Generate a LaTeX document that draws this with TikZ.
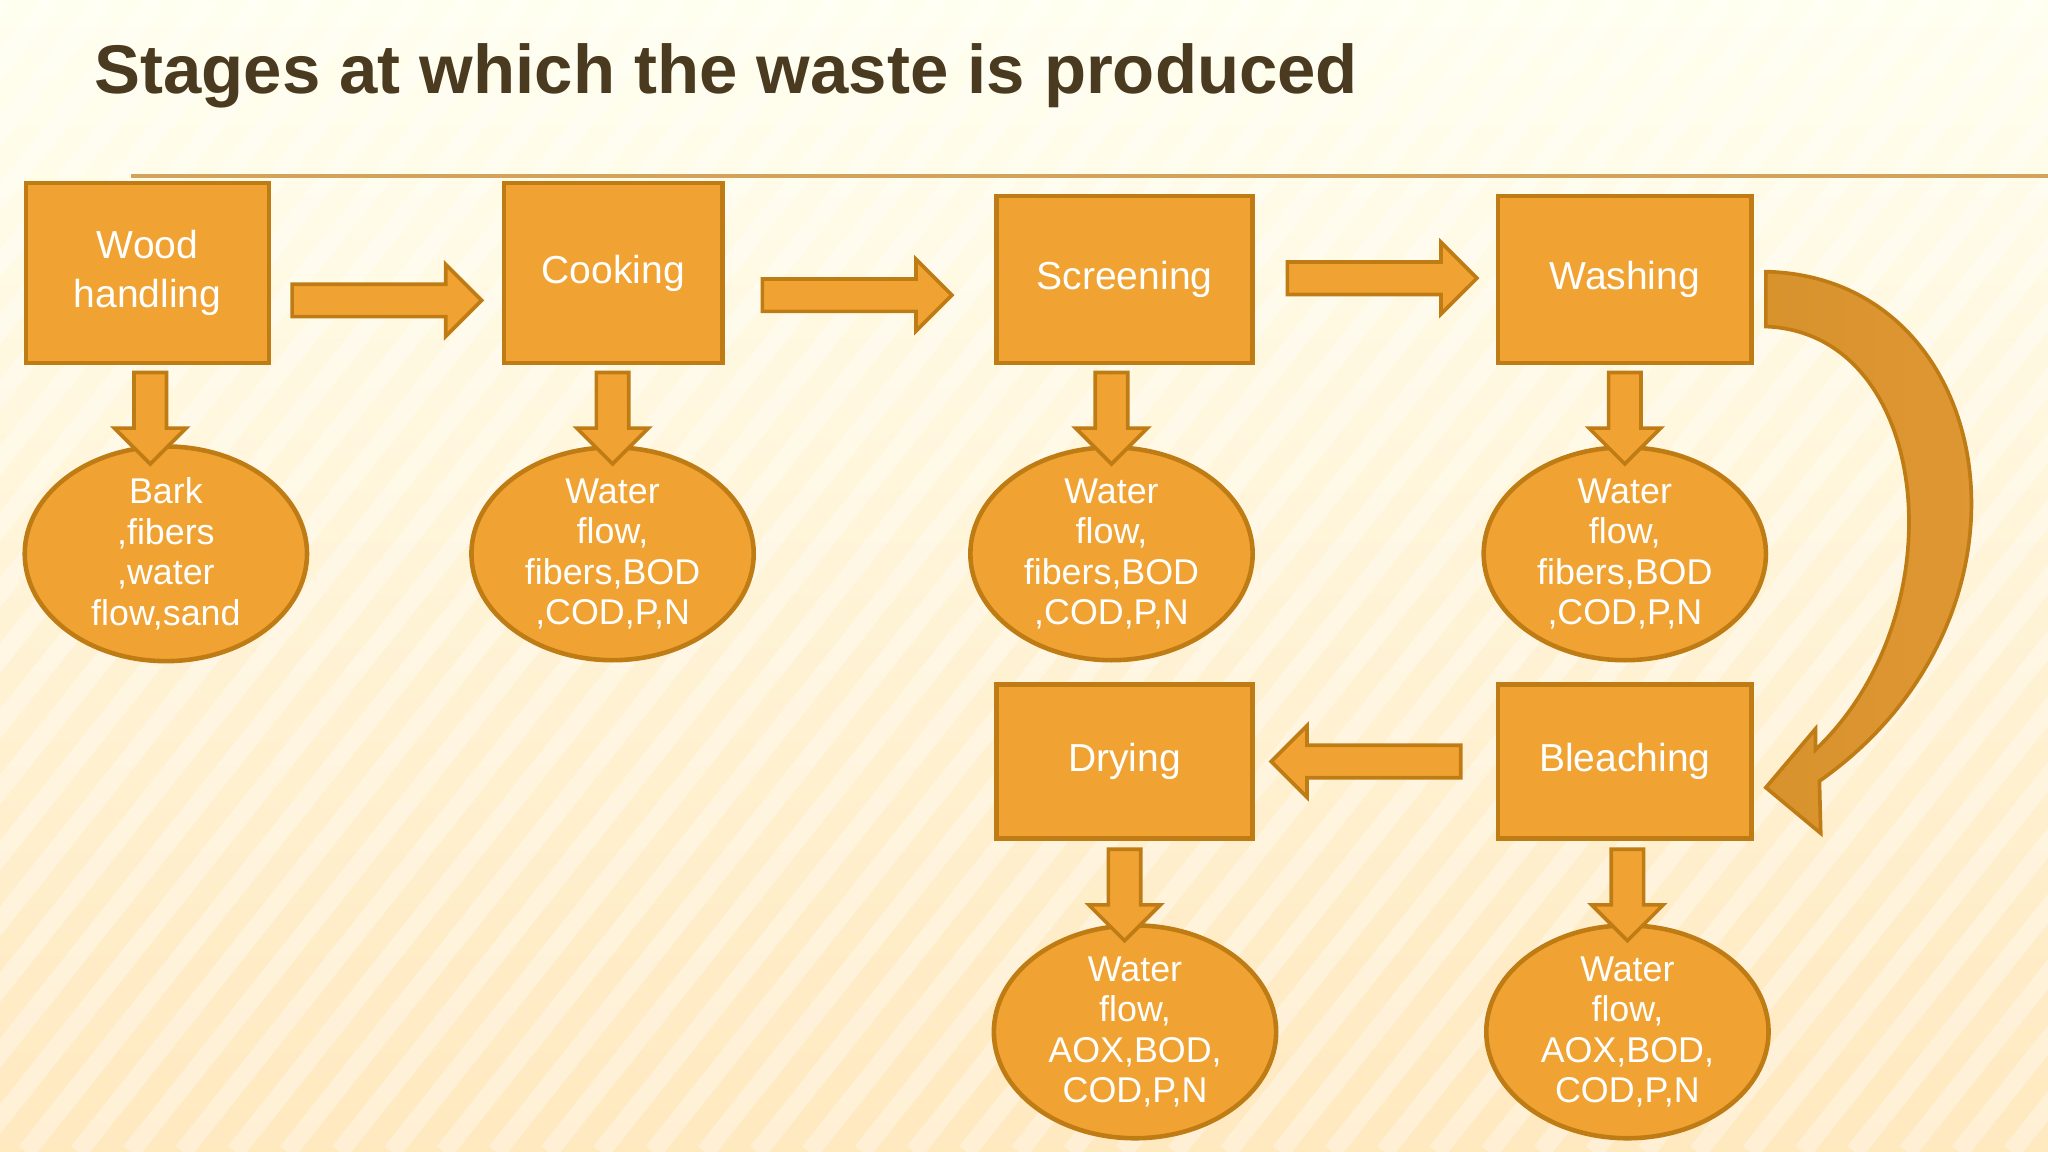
\documentclass[tikz,border=0pt]{standalone}
\usepackage{fontspec}
\setmainfont{Liberation Sans}
\usetikzlibrary{shapes.geometric,shapes.arrows}
\definecolor{org}{HTML}{F0A332}
\definecolor{edg}{HTML}{C07C14}
\definecolor{ttl}{HTML}{4A3A20}
\begin{document}
\begin{tikzpicture}[x=0.01cm,y=-0.01cm,
 box/.style={draw=edg,line width=1pt,fill=org,text=white,font=\fontsize{8.5}{10.5}\selectfont,align=center,inner sep=0pt},
 ell/.style={ellipse,draw=edg,line width=1pt,fill=org,text=white,font=\fontsize{7.8}{8.8}\selectfont,align=center,minimum width=2.16cm,minimum height=1.45cm,inner sep=0pt},
 blk/.style={single arrow,draw=edg,line width=0.8pt,fill=org,inner sep=0.11cm,single arrow head extend=0.15cm,single arrow tip angle=90},
 ]
\useasboundingbox (0,0) rectangle (1568,882);
\begin{scope}
\clip (0,0) rectangle (1568,882);
\shade[top color=white!70!yellow!20, bottom color=yellow!30!orange!25] (0,0) rectangle (1568,882);
\foreach \i in {0,40,...,2400}{\draw[white,opacity=0.35,line width=4pt] (\i,0) -- (\i-700,882);}
\end{scope}
\node[anchor=west,text=ttl,font=\fontsize{15}{18}\selectfont\bfseries] (title) at (60,58) {Stages at which the waste is produced};
\draw[edg!70,line width=0.8pt] (100,135) -- (1568,135);
% boxes
\node[box,minimum width=1.86cm,minimum height=1.38cm] (wood) at (113,209) {Wood\\handling};
\node[box,minimum width=1.67cm,minimum height=1.38cm] (cook) at (469.5,209) {Cooking};
\node[box,minimum width=1.96cm,minimum height=1.28cm] (scr) at (861,214) {Screening};
\node[box,minimum width=1.94cm,minimum height=1.28cm] (wash) at (1244,214) {Washing};
\node[box,minimum width=1.96cm,minimum height=1.18cm] (dry) at (861,583) {Drying};
\node[box,minimum width=1.94cm,minimum height=1.18cm] (bleach) at (1244,583) {Bleaching};
% ellipses
\node[ell] (e1) at (127,424) {Bark\\,fibers\\,water\\flow,sand};
\node[ell] (e2) at (469,424) {Water\\flow,\\fibers,BOD\\,COD,P,N};
\node[ell] (e3) at (851,424) {Water\\flow,\\fibers,BOD\\,COD,P,N};
\node[ell] (e4) at (1244,424) {Water\\flow,\\fibers,BOD\\,COD,P,N};
\node[ell] (e5) at (869,790) {Water\\flow,\\AOX,BOD,\\COD,P,N};
\node[ell] (e6) at (1246,790) {Water\\flow,\\AOX,BOD,\\COD,P,N};
% horizontal arrows
\node[blk,minimum height=1.45cm] (a1) at (290,230) {};
\node[blk,minimum height=1.45cm] (a2) at (650,226) {};
\node[blk,minimum height=1.45cm] (a3) at (1052,213) {};
\node[blk,minimum height=1.45cm,shape border rotate=180] (a4) at (1052,583) {};
% down arrows
\node[blk,minimum height=0.7cm,shape border rotate=270] (d1) at (115,314) {};
\node[blk,minimum height=0.7cm,shape border rotate=270] (d2) at (469,314) {};
\node[blk,minimum height=0.7cm,shape border rotate=270] (d3) at (851,314) {};
\node[blk,minimum height=0.7cm,shape border rotate=270] (d4) at (1244,314) {};
\node[blk,minimum height=0.7cm,shape border rotate=270] (d5) at (861,679) {};
\node[blk,minimum height=0.7cm,shape border rotate=270] (d6) at (1246,679) {};
% curved arrow
\coordinate (cs) at (1352,208);
\coordinate (ct) at (1352,603);
\fill[left color=org!90!black, right color=org!70!brown, draw=edg, line width=0.8pt]
 (cs) .. controls (1530,212) and (1575,470) .. (1393,598) -- (1394,638) -- (ct) -- (1390,558) -- (1390,574)
 .. controls (1500,470) and (1480,255) .. (1352,250) -- cycle;
\end{tikzpicture}
\end{document}
